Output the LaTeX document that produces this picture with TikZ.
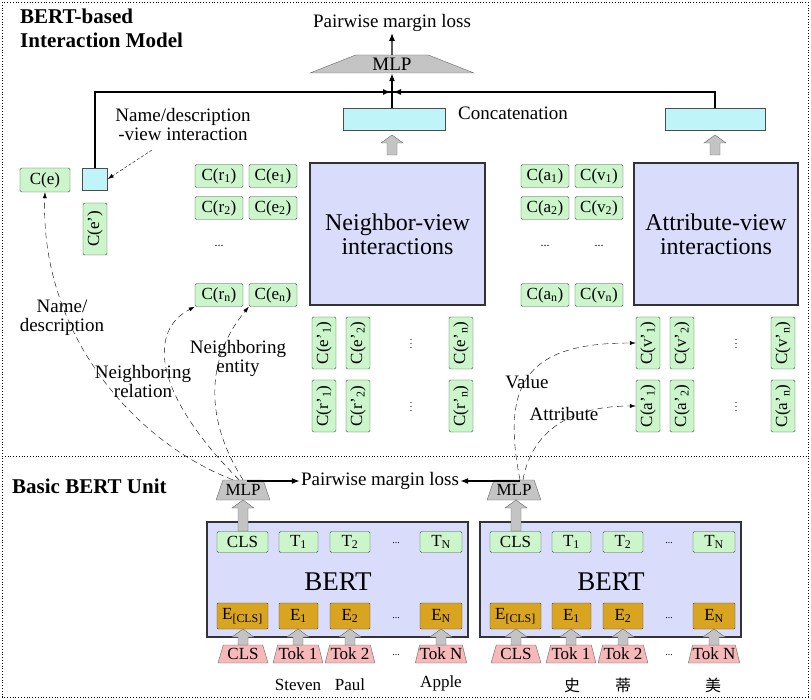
\documentclass[tikz,border=0pt]{standalone}
\usepackage{fontspec}
\setmainfont{Liberation Serif}
\newfontfamily\serif{Liberation Serif}
\newfontfamily\cjk{Noto Sans CJK SC}
\usetikzlibrary{shapes.geometric,arrows.meta}
\definecolor{gfill}{HTML}{CCF5CC}
\definecolor{gline}{HTML}{3A5A3A}
\definecolor{pfill}{HTML}{D9DCFA}
\definecolor{cfill}{HTML}{BFF5F8}
\definecolor{ofill}{HTML}{D9A521}
\definecolor{kfill}{HTML}{F6B8B8}
\definecolor{afill}{HTML}{C4C4C4}
\newcommand{\fs}[1]{\serif\fontsize{#1}{#1}\selectfont}
\tikzset{
 g/.style={draw=gline,fill=gfill,rounded corners=1.5,inner sep=0,font=\fs{17}},
 gv/.style={g,rotate=90,minimum width=52,minimum height=24},
 big/.style={draw=black!80,line width=1.6,fill=pfill,inner sep=0,font=\fs{24},align=center},
 cy/.style={draw=black!70,fill=cfill,inner sep=0},
 gold/.style={draw=black!70,fill=ofill,rounded corners=1,inner sep=0,font=\fs{17},minimum height=26},
 tg/.style={draw=gline,fill=gfill,rounded corners=1.5,inner sep=0,font=\fs{17},minimum height=21},
 tok/.style={trapezium,trapezium stretches=true,draw=black!60,fill=kfill,trapezium angle=70,minimum width=50,minimum height=18,inner sep=0,font=\fs{17}},
 mlp/.style={trapezium,trapezium stretches=true,draw=black!60,fill=afill,trapezium angle=62,minimum width=54,minimum height=20,inner sep=0,font=\fs{17}},
 lab/.style={font=\fs{19},align=center,inner sep=1},
 dsh/.style={dash pattern=on 6pt off 4pt,-{Latex[length=6,width=4]}},
 ar/.style={line width=1.4,-{Latex[length=8,width=6]}},
 dt/.style={dotted,line width=0.8}
}
\newcommand{\uparr}[3]{\draw[draw=black!60,fill=afill] (#1-5,#2) -- (#1-5,#3+8) -- (#1-11,#3+8) -- (#1,#3) -- (#1+11,#3+8) -- (#1+5,#3+8) -- (#1+5,#2) -- cycle;}
\begin{document}
\begin{tikzpicture}[x=1pt,y=-1pt]
\useasboundingbox (0,0) rectangle (811,700);
\draw[dt] (2,2) rectangle (808,697);
\draw[dt] (2,456) -- (808,456);
\node[anchor=north west,font=\fs{21}\bfseries,align=left,inner sep=0] (t1) at (20,9) {BERT-based\\[3pt]Interaction Model};
\node[anchor=north west,font=\fs{21}\bfseries,inner sep=0] (t2) at (12,479) {Basic BERT Unit};
% top part
\node[lab] (loss1) at (392,23) {Pairwise margin loss};
\node[trapezium,trapezium stretches=true,draw=black!60,fill=afill,trapezium angle=27,minimum width=165,minimum height=18,inner sep=0,font=\fs{19}] (mlpT) at (392,64) {MLP};
\draw[ar] (mlpT.north) -- (loss1.south);
\node[cy,minimum width=102,minimum height=22] (cat) at (394,119) {};
\node[cy,minimum width=100,minimum height=22] (catR) at (715,119) {};
\node[lab,anchor=west] (catlab) at (457,113) {Concatenation};
\node[cy,minimum width=25,minimum height=22] (sq) at (95,179) {};
\coordinate (j) at (392,92);
\draw[line width=1.4] (sq.north) |- (j);
\draw[line width=1.4] (catR.north) |- (j);
\draw[ar] (sq.north |- j) -- ([xshift=-1]j);
\draw[ar] (catR.north |- j) -- ([xshift=1]j);
\draw[ar] (cat.north -| j) -- (mlpT.south -| j);
\node[lab] (ndl) at (183,125) {Name/description\\-view interaction};
\draw[densely dashed,-{Latex[length=6,width=4]}] (152,150) -- (sq.east);
\node[g,minimum width=50,minimum height=24] (ce) at (45,180) {C(e)};
\node[gv] (cep) at (95,229) {C(e’)};
% neighbor matrix
\foreach \i/\y in {1/176,2/208,n/295}{
 \node[g,minimum width=48,minimum height=23] (r\i) at (219,\y) {C(r\textsubscript{\i})};
 \node[g,minimum width=48,minimum height=23] (e\i) at (273,\y) {C(e\textsubscript{\i})};
 \node[g,minimum width=48,minimum height=23] (a\i) at (545,\y) {C(a\textsubscript{\i})};
 \node[g,minimum width=48,minimum height=23] (v\i) at (599,\y) {C(v\textsubscript{\i})};
}
\node[font=\fs{12}] (d1) at (219,246) {...};
\node[font=\fs{12}] (d2) at (545,246) {...};
\node[font=\fs{12}] (d3) at (599,246) {...};
\node[big,minimum width=175,minimum height=142] (nb) at (397.5,234) {Neighbor-view\\interactions};
\node[big,minimum width=164,minimum height=142] (at) at (716,234) {Attribute-view\\interactions};
\uparr{392}{155}{135}
\uparr{715}{155}{135}
% rotated columns
\foreach \n/\x/\s in {1/324/1,2/358/2,3/461/n}{
 \node[gv] (ep\n) at (\x,343) {C(e’\textsubscript{\s})};
 \node[gv] (rp\n) at (\x,406) {C(r’\textsubscript{\s})};
}
\foreach \n/\x/\s in {1/648/1,2/682/2,3/783/n}{
 \node[gv] (vp\n) at (\x,343) {C(v’\textsubscript{\s})};
 \node[gv] (ap\n) at (\x,406) {C(a’\textsubscript{\s})};
}
\foreach \x in {411,736}{\node[font=\fs{10},inner sep=0] at (\x,341) {$\vdots$}; \node[font=\fs{10},inner sep=0] at (\x,404) {$\vdots$};}
% labels
\node[lab] (lnd) at (62,318) {Name/\\description};
\node[lab] (lnr) at (143,382) {Neighboring\\relation};
\node[lab] (lne) at (238,358) {Neighboring\\entity};
\node[lab] (lv) at (527,382) {Value};
\node[lab] (la) at (564,414) {Attribute};
% bottom
\node[mlp] (m1) at (243,490) {MLP};
\node[mlp] (m2) at (514,490) {MLP};
\node[lab] (loss2) at (380,481) {Pairwise margin loss};
\draw[line width=1.4,-{Latex[length=8,width=6]}] ([xshift=5]m1.north) |- (loss2.west);
\draw[line width=1.4,-{Latex[length=8,width=6]}] ([xshift=5]m2.north) |- (loss2.east);
\foreach \o/\k in {0/L,273/R}{
 \node[draw=black!80,line width=1.6,fill=pfill,minimum width=261,minimum height=115,inner sep=0] (bb\k) at (337.5+\o,579.5) {};
 \node[font=\fs{27}] (bt\k) at (338+\o,582) {BERT};
 \node[tg,minimum width=51] (cls\k) at (242.5+\o,542) {CLS};
 \node[tg,minimum width=39] (t1\k) at (298.5+\o,542) {T\textsubscript{1}};
 \node[tg,minimum width=40] (t2\k) at (350+\o,542) {T\textsubscript{2}};
 \node[tg,minimum width=42] (tn\k) at (441+\o,542) {T\textsubscript{N}};
 \node[font=\fs{10}] at (396+\o,543) {...};
 \node[gold,minimum width=51] (ec\k) at (242.5+\o,616) {E\textsubscript{[CLS]}};
 \node[gold,minimum width=39] (e1\k) at (298.5+\o,616) {E\textsubscript{1}};
 \node[gold,minimum width=40] (e2\k) at (350+\o,616) {E\textsubscript{2}};
 \node[gold,minimum width=42] (en\k) at (441+\o,616) {E\textsubscript{N}};
 \node[font=\fs{10}] at (396+\o,618) {...};
 \node[tok] (kc\k) at (243+\o,654) {CLS};
 \node[tok] (k1\k) at (298+\o,654) {Tok 1};
 \node[tok] (k2\k) at (350+\o,654) {Tok 2};
 \node[tok] (kn\k) at (441+\o,654) {Tok N};
 \node[font=\fs{10}] at (396+\o,655) {...};
 \foreach \xx in {243,298,350,441}{\uparr{\xx+\o}{645}{629}}
 \uparr{243+\o}{531}{500}
}
\node[lab,font=\fs{17}] (w1) at (298,685) {Steven};
\node[lab,font=\fs{17}] (w2) at (350,685) {Paul};
\node[lab,font=\fs{17}] (w3) at (441,683) {Apple};
\node[lab,font=\cjk\fontsize{16}{16}\selectfont] (w4) at (572,685) {史};
\node[lab,font=\cjk\fontsize{16}{16}\selectfont] (w5) at (623,685) {蒂};
\node[lab,font=\cjk\fontsize{16}{16}\selectfont] (w6) at (713,685) {美};
% dashed curves
\draw[dsh] (m1.north west) .. controls (130,440) and (40,330) .. (ce.south);
\draw[dsh] ([xshift=-4]m1.north) .. controls (150,390) and (150,330) .. (rn.south west);
\draw[dsh] (m1.north) .. controls (205,420) and (205,360) .. (en.south west);
\draw[dsh] ([xshift=6]m2.north) .. controls (500,380) and (530,343) .. (vp1.north);
\draw[dsh] ([xshift=9]m2.north) .. controls (530,440) and (560,406) .. (ap1.north);
\end{tikzpicture}
\end{document}
